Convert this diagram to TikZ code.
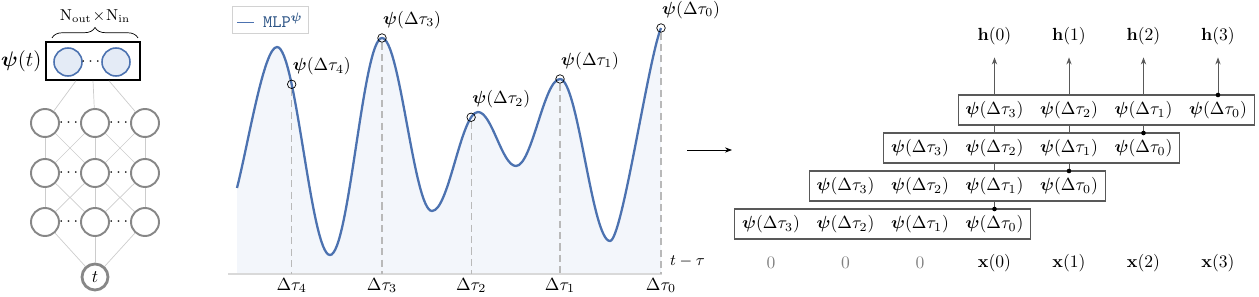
\documentclass[tikz,border=0pt]{standalone}
\usepackage{amsmath}
\usepackage{tikz}
\usetikzlibrary{arrows.meta,decorations.pathreplacing,positioning}

\definecolor{curveblue}{RGB}{76,114,176}
\definecolor{areablue}{RGB}{243,246,251}
\definecolor{legendblue}{RGB}{44,84,134}
\definecolor{unitfill}{RGB}{228,235,246}
\definecolor{unitgray}{RGB}{135,135,135}

\newcommand{\psiof}[1]{\boldsymbol{\psi}(#1)}

\begin{document}
\begin{tikzpicture}[x=0.02cm,y=-0.02cm,
  neuron/.style={circle,draw=unitgray,line width=1.1pt,minimum size=0.56cm,inner sep=0pt,fill=white},
  outunit/.style={circle,draw=curveblue,line width=0.9pt,fill=unitfill,minimum size=0.56cm,inner sep=0pt},
  link/.style={draw=gray!40,line width=0.4pt},
  samplept/.style={circle,draw,line width=0.4pt,minimum size=0.17cm,inner sep=0pt},
  guide/.style={draw=gray!55,line width=0.6pt,dash pattern=on 4pt off 2.5pt},
  ptlabel/.style={anchor=south west,inner sep=0.5pt},
  psicell/.style={inner sep=1pt},
  rowbox/.style={draw=black!65,fill=white,minimum width=5.92cm,minimum height=0.6cm,inner sep=0pt,line width=0.6pt},
  feed/.style={-{Stealth[length=4pt,width=3pt]},draw=black!65,line width=0.5pt},
]
\useasboundingbox (0,0) rectangle (1259,297);

% MLP
\node[draw,line width=0.9pt,minimum width=1.88cm,minimum height=0.76cm] (psibox) at (93,61) {};
\node[outunit] (o1) at (68,62) {};
\node[outunit] (o2) at (116,62) {};
\node[font=\small] at (92,62) {$\cdots$};
\node[left=2pt of psibox,font=\large,inner sep=0pt] (psilab) {$\boldsymbol{\psi}(t)$};
\draw[decorate,decoration={brace,amplitude=6pt}] (52,38) -- (138,38);
\node[font=\small,inner sep=1pt] (dims) at (95,16) {$\mathrm{N_{out}}\!\times\!\mathrm{N_{in}}$};

\foreach \l/\y in {1/123,2/173,3/222}{
  \foreach \c/\x in {1/45,2/95,3/145}
    \node[neuron] (n\l-\c) at (\x,\y) {};
  \node[font=\small] at (70,\y) {$\cdots$};
  \node[font=\small] at (120,\y) {$\cdots$};
}
\node[neuron,line width=1.6pt,minimum size=0.52cm] (tin) at (95,277) {$t$};

\foreach \c/\dx in {1/-0.34cm,2/0cm,3/0.32cm}
  \draw[link] ([xshift=\dx]psibox.south) -- (n1-\c);
\foreach \l/\m in {1/2,2/3}
  \foreach \a/\b in {1/1,1/2,2/1,2/2,2/3,3/2,3/3}
    \draw[link] (n\l-\a) -- (n\m-\b);
\foreach \c in {1,2,3}
  \draw[link] (n3-\c) -- (tin);

% MLP output over t - tau
\def\psicurve{(237,188) .. controls (249,140) and (264,47) .. (277,47)
  .. controls (296,47) and (311,255) .. coordinate[pos=0.27] (p4) (330,255)
  .. controls (349,255) and (363,38) .. (382,38) coordinate (p3)
  .. controls (400,38) and (414,211) .. (432,211)
  .. controls (449,211) and (461,112) .. coordinate[pos=0.86] (p2) (478,112)
  .. controls (492,112) and (502,166) .. (516,166)
  .. controls (532,166) and (544,79) .. (560,79) coordinate (p1)
  .. controls (578,79) and (592,241) .. (610,241)
  .. controls (622,241) and (648,60) .. (661,28) coordinate (p0)}
\fill[areablue] (237,274) -- \psicurve -- (661,274) -- cycle;
\draw[curveblue,line width=1.3pt] \psicurve;

\coordinate (origin) at (228,274);
\coordinate (axisend) at (662,274);
\draw[gray!30,line width=1.2pt] (origin) -- (axisend);
\node[anchor=south west,font=\small,inner sep=1pt] (tlag) at ([xshift=0.12cm,yshift=0.1cm]axisend) {$t-\tau$};

\foreach \i in {0,...,4}{
  \node[samplept] (s\i) at (p\i) {};
  \draw[guide] (s\i) -- (p\i |- origin) node[below,inner sep=2pt] (tick\i) {$\Delta\tau_{\i}$};
  \node[ptlabel] (lab\i) at ([yshift=2pt]s\i.north) {$\psiof{\Delta\tau_{\i}}$};
}

\node[draw=gray!35,fill=white,inner sep=3pt,minimum width=1.48cm,minimum height=0.54cm,text=legendblue] (legend) at (270,20)
  {\textcolor{curveblue}{\rule[0.55ex]{0.34cm}{1pt}}\, $\mathtt{MLP}^{\boldsymbol{\psi}}$};

\coordinate (arrS) at (687,150);
\coordinate (arrE) at (732,150);
\draw[-{Stealth[length=4pt,width=3pt]},line width=0.5pt] (arrS) -- (arrE);

% causal conv rows
\foreach \k in {0,1,2}
  \node[psicell,text=gray] (inz\k) at (771+74.5*\k,263) {$0$};
\foreach \k in {0,...,3}{
  \node[psicell] (inx\k) at (994.5+74.5*\k,263) {$\mathbf{x}(\k)$};
  \node[psicell] (out\k) at (994.5+74.5*\k,36) {$\mathbf{h}(\k)$};
  \coordinate (tap\k) at (994.5+74.5*\k,209-38*\k);
  \draw[feed,shorten >=6pt] (tap\k) -- (out\k);
}
\foreach \r in {0,...,3}{
  \node[rowbox] (row\r) at (882.75+74.5*\r,224-38*\r) {};
  \foreach \k/\lab in {0/3,1/2,2/1,3/0}
    \node[psicell] (cell\r-\k) at (771+74.5*\r+74.5*\k,224-38*\r) {$\psiof{\Delta\tau_{\lab}}$};
  \fill (tap\r) circle (1.3pt);
}
\end{tikzpicture}
\end{document}
